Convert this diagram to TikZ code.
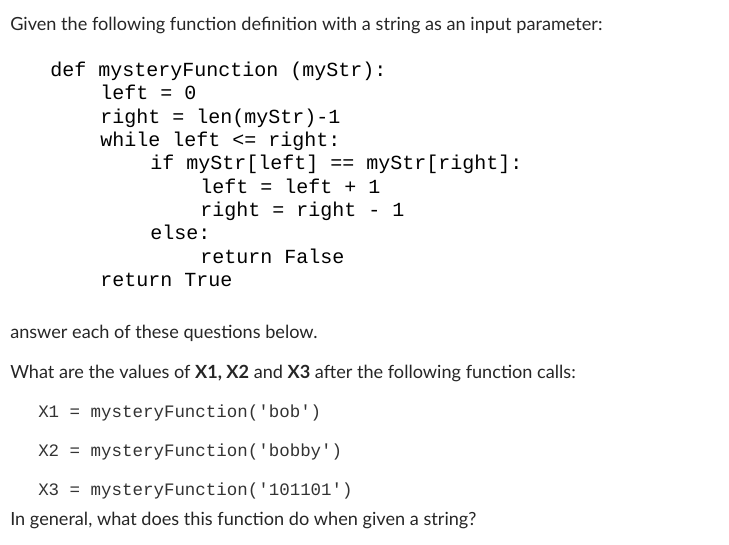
\documentclass[tikz,border=0pt]{standalone}
\usepackage{fontspec}
\setmainfont{Lato}
\setmonofont{Liberation Mono}
\begin{document}
\begin{tikzpicture}[x=0.75pt,y=-0.75pt,
  txt/.style={anchor=base west,inner sep=0pt,font=\fontsize{13.6pt}{15pt}\selectfont,text=black!85},
  code/.style={anchor=base west,inner sep=0pt,font=\ttfamily\fontsize{15pt}{17pt}\selectfont},
  scode/.style={anchor=base west,inner sep=0pt,font=\ttfamily\fontsize{13.1pt}{14pt}\selectfont,text=black!80}]
\useasboundingbox[fill=white] (0,0) rectangle (729,545);
\node[txt] (t1) at (10,31) {Given the following function definition with a string as an input parameter:};
\node[code] (c1) at (50,77) {def mysteryFunction (myStr):};
\node[code] (c2) at (100,100) {left = 0};
\node[code] (c3) at (100,124) {right = len(myStr)-1};
\node[code] (c4) at (100,147) {while left <= right:};
\node[code] (c5) at (150,170) {if myStr[left] == myStr[right]:};
\node[code] (c6) at (200,194) {left = left + 1};
\node[code] (c7) at (200,217) {right = right - 1};
\node[code] (c8) at (150,240) {else:};
\node[code] (c9) at (200,264) {return False};
\node[code] (c10) at (100,287) {return True};
\node[txt] (t2) at (10,339) {answer each of these questions below.};
\node[txt] (t3) at (10,379) {What are the values of \textbf{X1, X2} and \textbf{X3} after the following function calls:};
\node[scode] (d1) at (38,418) {X1 = mysteryFunction('bob')};
\node[scode] (d2) at (38,457) {X2 = mysteryFunction('bobby')};
\node[scode] (d3) at (38,496) {X3 = mysteryFunction('101101')};
\node[txt] (t4) at (10,526) {In general, what does this function do when given a string?};
\end{tikzpicture}
\end{document}
